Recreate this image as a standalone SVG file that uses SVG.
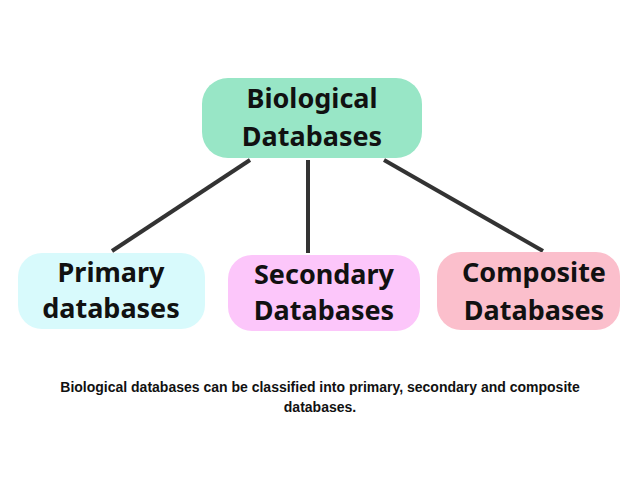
<svg xmlns="http://www.w3.org/2000/svg" width="638" height="478" viewBox="0 0 638 478">
<style>
.n{font-family:"Noto Sans",sans-serif;font-weight:bold;font-size:27px;fill:#111;text-anchor:middle}
.c{stroke:#333;stroke-width:4;fill:none}
.cap{font-family:"Liberation Sans",Arial,sans-serif;font-weight:bold;font-size:14px;fill:#111;text-anchor:middle}
</style>
<rect width="638" height="478" fill="#fff"/>
<g id="connectors">
<line class="c" x1="250" y1="160" x2="112" y2="251"/>
<line class="c" x1="308" y1="160" x2="308" y2="253"/>
<line class="c" x1="384" y1="160" x2="543" y2="251"/>
</g>
<g id="root"><rect x="202" y="78" width="220" height="80" rx="26" fill="#98e6c6"/>
<text class="n" x="312" y="108">Biological</text><text class="n" x="312" y="146">Databases</text></g>
<g id="primary"><rect x="18" y="253" width="187" height="76" rx="24" fill="#d8fafc"/>
<text class="n" x="111" y="282">Primary</text><text class="n" x="111" y="318">databases</text></g>
<g id="secondary"><rect x="228" y="255" width="192" height="76" rx="24" fill="#fcc6fa"/>
<text class="n" x="324" y="284">Secondary</text><text class="n" x="324" y="320">Databases</text></g>
<g id="composite"><rect x="437" y="252" width="183" height="78" rx="24" fill="#fbbfcc"/>
<text class="n" x="534" y="282">Composite</text><text class="n" x="534" y="320">Databases</text></g>
<text class="cap" x="320" y="392">Biological databases can be classified into primary,  secondary and composite</text>
<text class="cap" x="320" y="412">databases.</text>
</svg>
